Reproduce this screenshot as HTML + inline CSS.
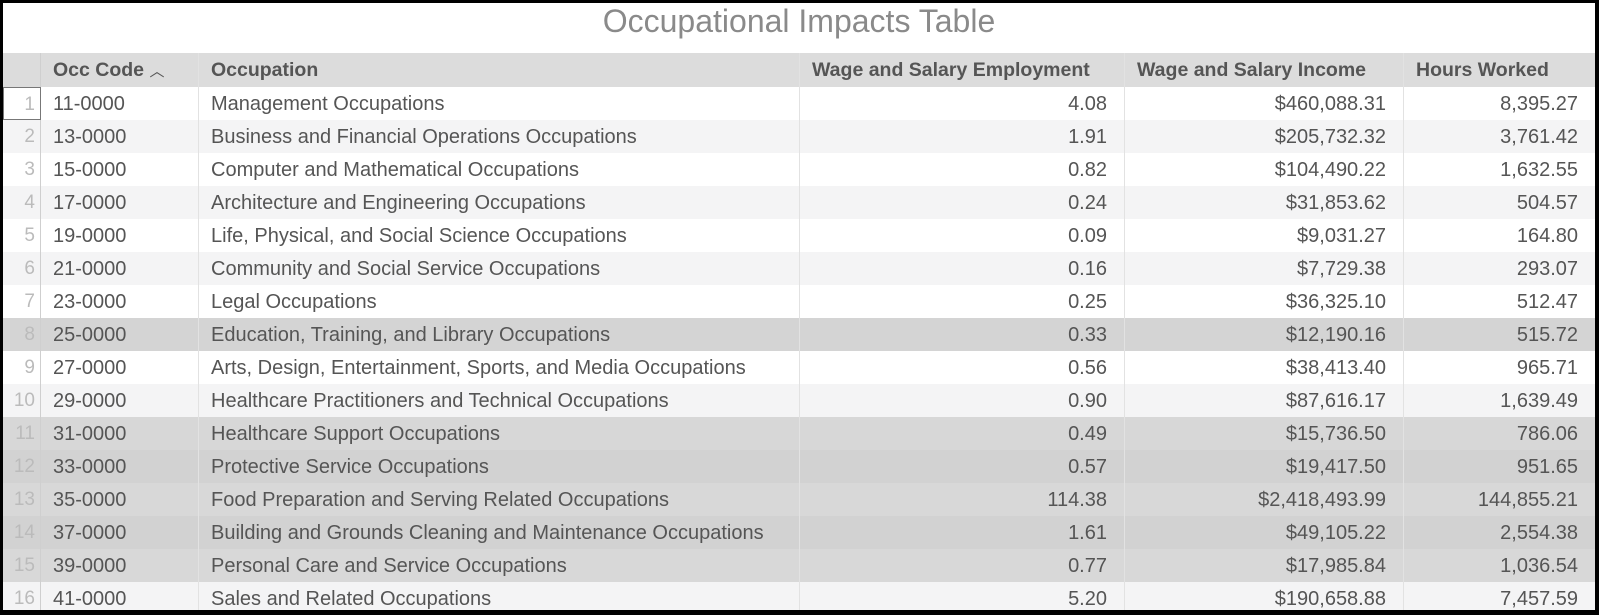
<!DOCTYPE html>
<html><head><meta charset="utf-8"><style>
html,body{margin:0;padding:0;}
body{width:1599px;height:615px;background:#000;position:relative;overflow:hidden;font-family:"Liberation Sans",sans-serif;}
#panel{position:absolute;left:3px;top:3px;width:1592px;height:607px;background:#fff;overflow:hidden;}
#title{position:absolute;left:0;top:-1px;width:1592px;text-align:center;font-size:32px;color:#8a8a8a;line-height:38px;}
.row{position:absolute;left:0;width:1592px;height:33px;}
.c{position:absolute;top:0;height:33px;line-height:34px;font-size:20px;color:#555;white-space:nowrap;box-sizing:border-box;}
.hdr{height:34px;}
.hdr .c{font-weight:bold;color:#555;font-size:19.5px;height:34px;line-height:34px;}
.num{left:0;width:38px;text-align:right;padding-right:5px;color:#bbb;border-right:1px solid #cfcfcf;font-size:19px !important;}
.code{left:38px;width:158px;padding-left:12px;border-right:1px solid #e2e2e2;}
.occ{left:196px;width:601px;padding-left:12px;border-right:1px solid #e2e2e2;}
.emp{left:797px;width:325px;padding-right:17px;text-align:right;border-right:1px solid #e2e2e2;}
.inc{left:1122px;width:279px;padding-right:17px;text-align:right;border-right:1px solid #e2e2e2;}
.hrs{left:1401px;width:191px;padding-right:17px;text-align:right;}
.hdr .emp,.hdr .inc,.hdr .hrs{text-align:left;padding-left:12px;}
</style></head><body>
<div id="panel">
<div id="title">Occupational Impacts Table</div>
<div class="row hdr" style="top:50px;background:#dcdcdc">
<div class="c num"></div>
<div class="c code">Occ Code <span style="font-weight:normal;font-size:15px">︿</span></div>
<div class="c occ">Occupation</div>
<div class="c emp">Wage and Salary Employment</div>
<div class="c inc">Wage and Salary Income</div>
<div class="c hrs">Hours Worked</div>
</div>
<div id="rows"></div>
</div>
<script>
const codes=["11-0000","13-0000","15-0000","17-0000","19-0000","21-0000","23-0000","25-0000","27-0000","29-0000","31-0000","33-0000","35-0000","37-0000","39-0000","41-0000"];
const occs=["Management Occupations","Business and Financial Operations Occupations","Computer and Mathematical Occupations","Architecture and Engineering Occupations","Life, Physical, and Social Science Occupations","Community and Social Service Occupations","Legal Occupations","Education, Training, and Library Occupations","Arts, Design, Entertainment, Sports, and Media Occupations","Healthcare Practitioners and Technical Occupations","Healthcare Support Occupations","Protective Service Occupations","Food Preparation and Serving Related Occupations","Building and Grounds Cleaning and Maintenance Occupations","Personal Care and Service Occupations","Sales and Related Occupations"];
const emp=["4.08","1.91","0.82","0.24","0.09","0.16","0.25","0.33","0.56","0.90","0.49","0.57","114.38","1.61","0.77","5.20"];
const inc=["$460,088.31","$205,732.32","$104,490.22","$31,853.62","$9,031.27","$7,729.38","$36,325.10","$12,190.16","$38,413.40","$87,616.17","$15,736.50","$19,417.50","$2,418,493.99","$49,105.22","$17,985.84","$190,658.88"];
const hrs=["8,395.27","3,761.42","1,632.55","504.57","164.80","293.07","512.47","515.72","965.71","1,639.49","786.06","951.65","144,855.21","2,554.38","1,036.54","7,457.59"];
const hl={7:"#d4d4d4",10:"#d7d7d7",11:"#d2d2d2",12:"#d8d8d8",13:"#d2d2d2",14:"#d8d8d8"};
const rows=document.getElementById('rows');
codes.forEach((code,i)=>{
  const r=document.createElement('div');
  r.className='row';
  
  
  r.style.top=(84+i*33)+'px';
  r.style.background=hl[i]||(i%2?'#f4f4f5':'#fff');
  const cells=[['num',String(i+1),'row-number'],['code',code,'occ-code-cell'],['occ',occs[i],'occupation-cell'],['emp',emp[i],'employment-cell'],['inc',inc[i],'income-cell'],['hrs',hrs[i],'hours-cell']];
  cells.forEach(([cls,t,n])=>{
    const c=document.createElement('div');
    c.className='c '+cls;
    
    
    c.textContent=t;
    if(i===0&&cls==='num'){c.style.border='1px solid #777';}
    r.appendChild(c);
  });
  rows.appendChild(r);
});
</script>
</body></html>
